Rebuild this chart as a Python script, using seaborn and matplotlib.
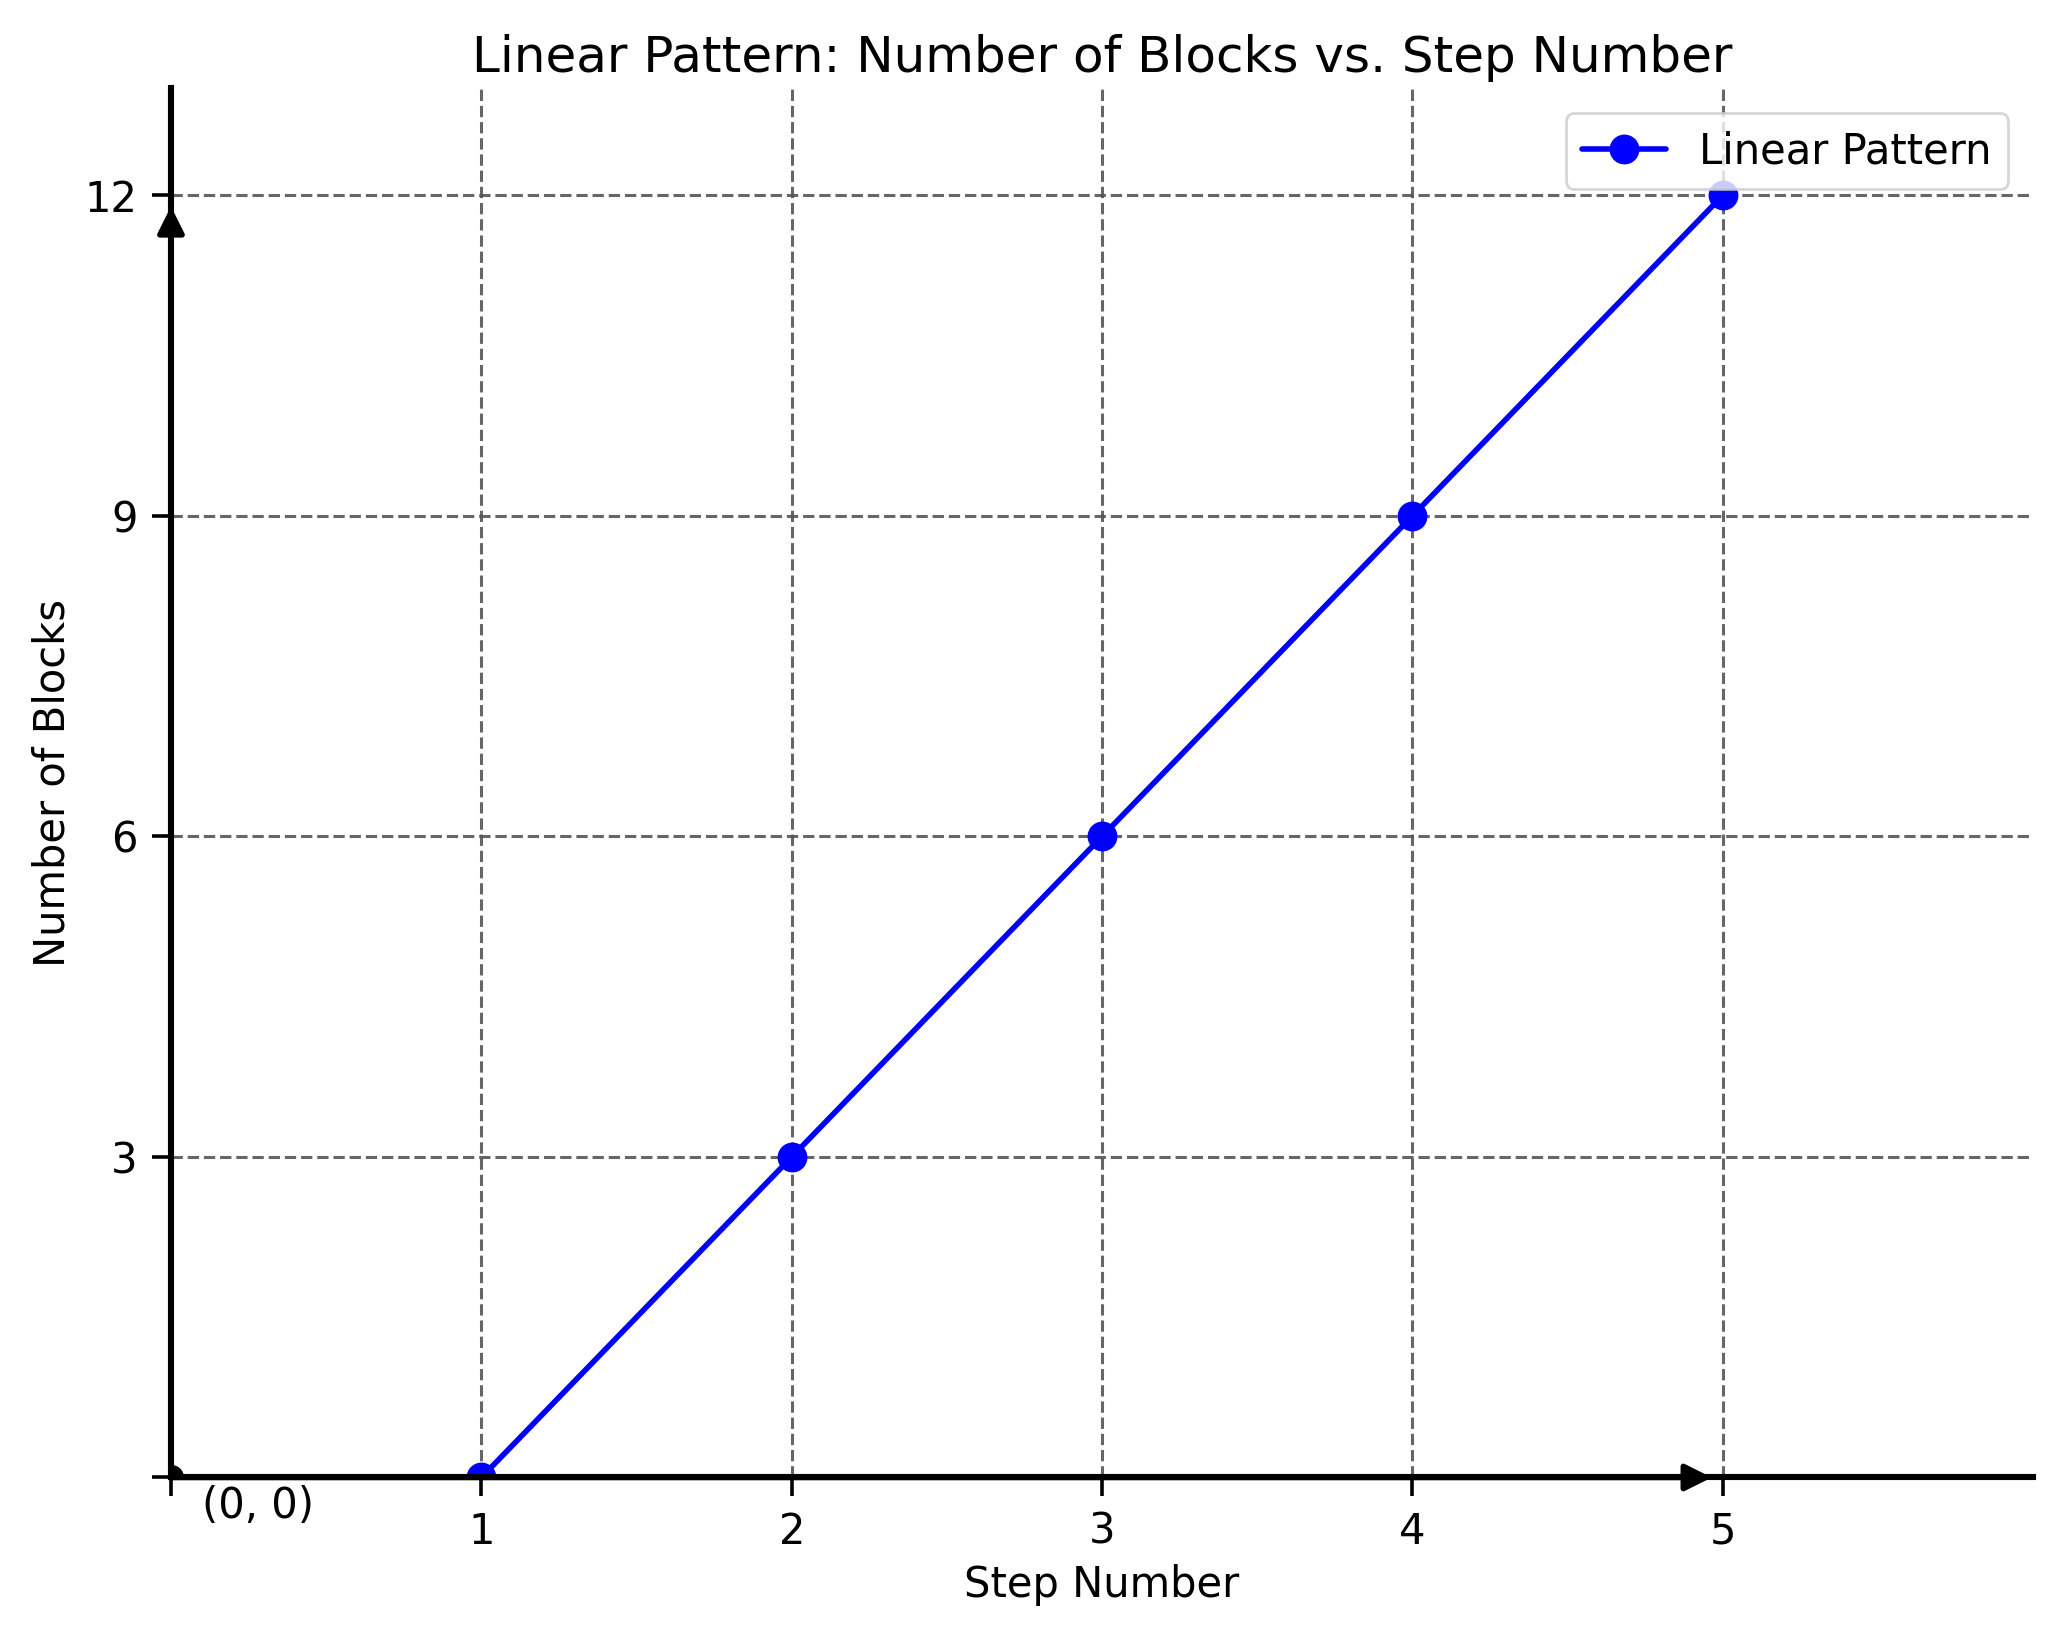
import matplotlib

matplotlib.use("Agg")
import matplotlib.pyplot as plt
import pandas as pd
import seaborn as sns

steps = [1, 2, 3, 4, 5]
blocks = [0, 3, 6, 9, 12]
x_ticks = [0, 1, 2, 3, 4, 5]
x_tick_labels = ["", "1", "2", "3", "4", "5"]
y_ticks = [0, 3, 6, 9, 12]
y_tick_labels = ["", "3", "6", "9", "12"]

df = pd.DataFrame({"Step Number": steps, "Number of Blocks": blocks})

sns.set_style("white")
plt.rcParams.update({"text.color": "black", "axes.labelcolor": "black",
                     "xtick.color": "black", "ytick.color": "black"})
fig = plt.figure(figsize=(10.3, 8.19), dpi=200)
ax = fig.add_axes([0.083, 0.098, 0.904, 0.848])

sns.lineplot(data=df, x="Step Number", y="Number of Blocks", marker="o",
             color="blue", lw=2, markersize=10, markeredgecolor="blue",
             label="Linear Pattern", ax=ax)

# origin dot, clipped by the axes like the original
ax.plot(0, 0, "o", color="black", markersize=8)

# arrows along the axes
arrow = dict(arrowstyle="-|>", color="black", lw=2, mutation_scale=20,
             shrinkA=0, shrinkB=4)
ax.annotate("", xy=(5, 0), xytext=(0, 0), arrowprops=arrow)
ax.annotate("", xy=(0, 12), xytext=(0, 0), arrowprops=arrow)
ax.text(0.28, -0.27, "(0, 0)", ha="center", va="center", fontsize=15)

ax.set_xlim(0, 6)
ax.set_ylim(0, 13)
ax.set_xticks(x_ticks, x_tick_labels, fontsize=15)
ax.set_yticks(y_ticks, y_tick_labels, fontsize=15)
ax.tick_params(axis="both", bottom=True, left=True, length=7, width=1.3,
               direction="out", pad=5, colors="black")

for side in ["top", "right"]:
    ax.spines[side].set_visible(False)
for side in ["left", "bottom"]:
    ax.spines[side].set_linewidth(2.2)
    ax.spines[side].set_color("black")

ax.grid(True, linestyle="--", color="#555555", lw=1.1, alpha=0.9)
ax.set_axisbelow(True)

ax.set_title("Linear Pattern: Number of Blocks vs. Step Number", fontsize=18)
ax.set_xlabel("Step Number", fontsize=15)
ax.set_ylabel("Number of Blocks", fontsize=15)
ax.legend(loc="upper right", fontsize=15, borderaxespad=0.6)

plt.savefig("out.png", dpi=200)
